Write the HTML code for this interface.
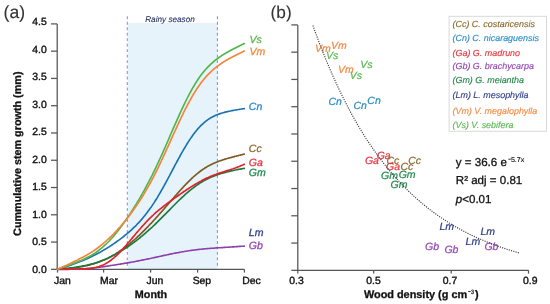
<!DOCTYPE html>
<html><head><meta charset="utf-8"><style>
html,body{margin:0;padding:0;background:#fff;width:550px;height:304px;overflow:hidden}
svg{display:block;font-family:"Liberation Sans",sans-serif;filter:blur(0.35px);text-rendering:geometricPrecision}
</style></head><body>
<svg width="550" height="304" viewBox="0 0 550 304" stroke-width="0.3">
<rect x="127.9" y="23" width="89.5" height="246.3" fill="#e6f3fa"/>
<g stroke="#7b97d4" stroke-width="1.05" stroke-dasharray="2.9,2.58">
<line x1="127.3" y1="16.3" x2="127.3" y2="268"/>
<line x1="217.4" y1="16.3" x2="217.4" y2="268"/>
</g>
<text x="145.2" y="22.4" font-size="8.2" font-style="italic" fill="#2c3566" stroke="#2c3566" stroke-width="0.12">Rainy season</text>
<g stroke="#555" stroke-width="1.25" fill="none">
<path d="M57.2,23.9 L57.2,269.3 L244.4,269.3"/>
<line x1="51" y1="23.90" x2="57.2" y2="23.90"/><line x1="51" y1="51.17" x2="57.2" y2="51.17"/><line x1="51" y1="78.44" x2="57.2" y2="78.44"/><line x1="51" y1="105.71" x2="57.2" y2="105.71"/><line x1="51" y1="132.98" x2="57.2" y2="132.98"/><line x1="51" y1="160.25" x2="57.2" y2="160.25"/><line x1="51" y1="187.52" x2="57.2" y2="187.52"/><line x1="51" y1="214.79" x2="57.2" y2="214.79"/><line x1="51" y1="242.06" x2="57.2" y2="242.06"/><line x1="51" y1="269.33" x2="57.2" y2="269.33"/><line x1="57.50" y1="269.3" x2="57.50" y2="272.6"/><line x1="103.60" y1="269.3" x2="103.60" y2="272.6"/><line x1="150.60" y1="269.3" x2="150.60" y2="272.6"/><line x1="197.60" y1="269.3" x2="197.60" y2="272.6"/><line x1="244.40" y1="269.3" x2="244.40" y2="272.6"/>
</g>
<path d="M57.2,269.3 L58.2,269.3 L59.2,269.3 L60.2,269.3 L61.2,269.3 L62.2,269.3 L63.2,269.3 L64.2,269.3 L65.2,269.3 L66.2,269.3 L67.2,269.3 L68.2,269.3 L69.2,269.3 L70.2,269.2 L71.2,269.2 L72.2,269.2 L73.2,269.2 L74.2,269.2 L75.2,269.1 L76.2,269.1 L77.2,269.1 L78.2,269.0 L79.2,269.0 L80.2,269.0 L81.2,268.9 L82.2,268.9 L83.2,268.8 L84.2,268.7 L85.2,268.7 L86.2,268.6 L87.2,268.5 L88.2,268.5 L89.2,268.4 L90.2,268.3 L91.2,268.2 L92.2,268.1 L93.2,268.0 L94.2,267.9 L95.2,267.8 L96.2,267.7 L97.2,267.5 L98.2,267.4 L99.2,267.3 L100.2,267.1 L101.2,267.0 L102.2,266.9 L103.2,266.7 L104.2,266.6 L105.2,266.4 L106.2,266.3 L107.2,266.1 L108.2,266.0 L109.2,265.8 L110.2,265.6 L111.2,265.5 L112.2,265.3 L113.2,265.2 L114.2,265.0 L115.2,264.9 L116.2,264.7 L117.2,264.5 L118.2,264.4 L119.2,264.2 L120.2,264.1 L121.2,263.9 L122.2,263.8 L123.2,263.6 L124.2,263.4 L125.2,263.3 L126.2,263.1 L127.2,262.9 L128.2,262.8 L129.2,262.6 L130.2,262.4 L131.2,262.2 L132.2,262.0 L133.2,261.9 L134.2,261.7 L135.2,261.5 L136.2,261.3 L137.2,261.1 L138.2,260.9 L139.2,260.7 L140.2,260.5 L141.2,260.3 L142.2,260.1 L143.2,259.9 L144.2,259.7 L145.2,259.5 L146.2,259.3 L147.2,259.1 L148.2,258.9 L149.2,258.7 L150.2,258.5 L151.3,258.2 L152.3,258.0 L153.3,257.8 L154.3,257.6 L155.3,257.4 L156.3,257.2 L157.3,256.9 L158.3,256.7 L159.3,256.5 L160.3,256.3 L161.3,256.1 L162.3,255.8 L163.3,255.6 L164.3,255.4 L165.3,255.2 L166.3,255.0 L167.3,254.8 L168.3,254.6 L169.3,254.3 L170.3,254.1 L171.3,253.9 L172.3,253.7 L173.3,253.5 L174.3,253.3 L175.3,253.1 L176.3,252.9 L177.3,252.7 L178.3,252.6 L179.3,252.4 L180.3,252.2 L181.3,252.0 L182.3,251.8 L183.3,251.7 L184.3,251.5 L185.3,251.3 L186.3,251.2 L187.3,251.0 L188.3,250.8 L189.3,250.7 L190.3,250.5 L191.3,250.4 L192.3,250.3 L193.3,250.1 L194.3,250.0 L195.3,249.9 L196.3,249.7 L197.3,249.6 L198.3,249.5 L199.3,249.4 L200.3,249.3 L201.3,249.2 L202.3,249.1 L203.3,249.0 L204.3,248.9 L205.3,248.8 L206.3,248.7 L207.3,248.6 L208.3,248.5 L209.3,248.5 L210.3,248.4 L211.3,248.3 L212.3,248.2 L213.3,248.2 L214.3,248.1 L215.3,248.0 L216.3,247.9 L217.3,247.9 L218.3,247.8 L219.3,247.7 L220.3,247.7 L221.3,247.6 L222.3,247.6 L223.3,247.5 L224.3,247.4 L225.3,247.4 L226.3,247.3 L227.3,247.2 L228.3,247.2 L229.3,247.1 L230.3,247.0 L231.3,247.0 L232.3,246.9 L233.3,246.8 L234.3,246.8 L235.3,246.7 L236.3,246.6 L237.3,246.6 L238.3,246.5 L239.3,246.4 L240.3,246.4 L241.3,246.3 L242.3,246.2 L243.3,246.2 L244.3,246.1" stroke="#8d3fae" stroke-width="1.65" fill="none" stroke-linecap="round" stroke-linejoin="round"/>
<path d="M57.2,269.3 L58.2,269.3 L59.2,269.2 L60.2,269.2 L61.2,269.1 L62.2,269.0 L63.2,269.0 L64.2,268.9 L65.2,268.8 L66.2,268.7 L67.2,268.6 L68.2,268.5 L69.2,268.4 L70.2,268.3 L71.2,268.2 L72.2,268.1 L73.2,268.0 L74.2,267.9 L75.2,267.7 L76.2,267.6 L77.2,267.4 L78.2,267.3 L79.2,267.1 L80.2,267.0 L81.2,266.8 L82.2,266.6 L83.2,266.4 L84.2,266.2 L85.2,266.0 L86.2,265.8 L87.2,265.6 L88.2,265.3 L89.2,265.1 L90.2,264.8 L91.2,264.5 L92.2,264.3 L93.2,264.0 L94.2,263.7 L95.2,263.3 L96.2,263.0 L97.2,262.7 L98.2,262.3 L99.2,261.9 L100.2,261.5 L101.2,261.1 L102.2,260.7 L103.2,260.3 L104.2,259.9 L105.2,259.4 L106.2,258.9 L107.2,258.5 L108.2,258.0 L109.2,257.4 L110.2,256.9 L111.2,256.4 L112.2,255.8 L113.2,255.2 L114.2,254.7 L115.2,254.1 L116.2,253.4 L117.2,252.8 L118.2,252.2 L119.2,251.5 L120.2,250.8 L121.2,250.1 L122.2,249.4 L123.2,248.7 L124.2,248.0 L125.2,247.2 L126.2,246.5 L127.2,245.7 L128.2,244.9 L129.2,244.1 L130.2,243.3 L131.2,242.4 L132.2,241.6 L133.2,240.7 L134.2,239.9 L135.2,239.0 L136.2,238.1 L137.2,237.1 L138.2,236.2 L139.2,235.3 L140.2,234.3 L141.2,233.4 L142.2,232.4 L143.2,231.4 L144.2,230.4 L145.2,229.4 L146.2,228.4 L147.2,227.3 L148.2,226.3 L149.2,225.2 L150.2,224.2 L151.3,223.1 L152.3,222.0 L153.3,220.9 L154.3,219.8 L155.3,218.7 L156.3,217.6 L157.3,216.5 L158.3,215.4 L159.3,214.3 L160.3,213.1 L161.3,212.0 L162.3,210.9 L163.3,209.7 L164.3,208.6 L165.3,207.4 L166.3,206.3 L167.3,205.1 L168.3,204.0 L169.3,202.8 L170.3,201.7 L171.3,200.5 L172.3,199.3 L173.3,198.2 L174.3,197.0 L175.3,195.9 L176.3,194.8 L177.3,193.6 L178.3,192.5 L179.3,191.4 L180.3,190.3 L181.3,189.2 L182.3,188.1 L183.3,187.0 L184.3,185.9 L185.3,184.9 L186.3,183.8 L187.3,182.8 L188.3,181.8 L189.3,180.8 L190.3,179.8 L191.3,178.9 L192.3,177.9 L193.3,177.0 L194.3,176.1 L195.3,175.3 L196.3,174.4 L197.3,173.6 L198.3,172.8 L199.3,172.0 L200.3,171.3 L201.3,170.5 L202.3,169.8 L203.3,169.1 L204.3,168.5 L205.3,167.8 L206.3,167.2 L207.3,166.6 L208.3,166.1 L209.3,165.5 L210.3,165.0 L211.3,164.5 L212.3,164.0 L213.3,163.6 L214.3,163.1 L215.3,162.7 L216.3,162.3 L217.3,161.9 L218.3,161.5 L219.3,161.1 L220.3,160.7 L221.3,160.4 L222.3,160.1 L223.3,159.7 L224.3,159.4 L225.3,159.1 L226.3,158.8 L227.3,158.5 L228.3,158.2 L229.3,157.9 L230.3,157.7 L231.3,157.4 L232.3,157.1 L233.3,156.9 L234.3,156.6 L235.3,156.3 L236.3,156.1 L237.3,155.8 L238.3,155.6 L239.3,155.3 L240.3,155.1 L241.3,154.8 L242.3,154.6 L243.3,154.3 L244.3,154.1" stroke="#7d5a20" stroke-width="1.65" fill="none" stroke-linecap="round" stroke-linejoin="round"/>
<path d="M57.2,269.3 L58.2,269.2 L59.2,269.1 L60.2,269.0 L61.2,268.9 L62.2,268.8 L63.2,268.7 L64.2,268.6 L65.2,268.5 L66.2,268.4 L67.2,268.3 L68.2,268.2 L69.2,268.1 L70.2,267.9 L71.2,267.8 L72.2,267.7 L73.2,267.5 L74.2,267.4 L75.2,267.2 L76.2,267.1 L77.2,266.9 L78.2,266.8 L79.2,266.6 L80.2,266.5 L81.2,266.3 L82.2,266.1 L83.2,265.9 L84.2,265.7 L85.2,265.5 L86.2,265.3 L87.2,265.1 L88.2,264.8 L89.2,264.6 L90.2,264.4 L91.2,264.1 L92.2,263.8 L93.2,263.6 L94.2,263.3 L95.2,263.0 L96.2,262.7 L97.2,262.3 L98.2,262.0 L99.2,261.7 L100.2,261.3 L101.2,260.9 L102.2,260.5 L103.2,260.1 L104.2,259.7 L105.2,259.3 L106.2,258.9 L107.2,258.4 L108.2,258.0 L109.2,257.5 L110.2,257.0 L111.2,256.5 L112.2,256.0 L113.2,255.5 L114.2,255.0 L115.2,254.5 L116.2,253.9 L117.2,253.3 L118.2,252.8 L119.2,252.2 L120.2,251.6 L121.2,251.0 L122.2,250.4 L123.2,249.8 L124.2,249.1 L125.2,248.5 L126.2,247.8 L127.2,247.2 L128.2,246.5 L129.2,245.8 L130.2,245.1 L131.2,244.4 L132.2,243.7 L133.2,242.9 L134.2,242.2 L135.2,241.4 L136.2,240.7 L137.2,239.9 L138.2,239.1 L139.2,238.3 L140.2,237.5 L141.2,236.7 L142.2,235.9 L143.2,235.0 L144.2,234.2 L145.2,233.3 L146.2,232.4 L147.2,231.5 L148.2,230.6 L149.2,229.7 L150.2,228.8 L151.3,227.9 L152.3,227.0 L153.3,226.0 L154.3,225.1 L155.3,224.1 L156.3,223.1 L157.3,222.2 L158.3,221.2 L159.3,220.2 L160.3,219.2 L161.3,218.2 L162.3,217.2 L163.3,216.2 L164.3,215.2 L165.3,214.2 L166.3,213.1 L167.3,212.1 L168.3,211.1 L169.3,210.1 L170.3,209.1 L171.3,208.0 L172.3,207.0 L173.3,206.0 L174.3,205.0 L175.3,204.0 L176.3,203.0 L177.3,202.0 L178.3,201.0 L179.3,200.0 L180.3,199.1 L181.3,198.1 L182.3,197.2 L183.3,196.3 L184.3,195.3 L185.3,194.4 L186.3,193.5 L187.3,192.7 L188.3,191.8 L189.3,191.0 L190.3,190.1 L191.3,189.3 L192.3,188.6 L193.3,187.8 L194.3,187.0 L195.3,186.3 L196.3,185.6 L197.3,184.9 L198.3,184.2 L199.3,183.5 L200.3,182.9 L201.3,182.3 L202.3,181.7 L203.3,181.1 L204.3,180.5 L205.3,180.0 L206.3,179.5 L207.3,179.0 L208.3,178.5 L209.3,178.0 L210.3,177.5 L211.3,177.1 L212.3,176.7 L213.3,176.3 L214.3,175.9 L215.3,175.5 L216.3,175.1 L217.3,174.8 L218.3,174.4 L219.3,174.1 L220.3,173.8 L221.3,173.5 L222.3,173.2 L223.3,172.9 L224.3,172.6 L225.3,172.4 L226.3,172.1 L227.3,171.8 L228.3,171.6 L229.3,171.4 L230.3,171.1 L231.3,170.9 L232.3,170.7 L233.3,170.5 L234.3,170.2 L235.3,170.0 L236.3,169.8 L237.3,169.6 L238.3,169.4 L239.3,169.3 L240.3,169.1 L241.3,168.9 L242.3,168.7 L243.3,168.5 L244.3,168.4" stroke="#1c7a3c" stroke-width="1.65" fill="none" stroke-linecap="round" stroke-linejoin="round"/>
<path d="M57.2,269.3 L58.2,269.3 L59.2,269.2 L60.2,269.2 L61.2,269.2 L62.2,269.2 L63.2,269.1 L64.2,269.1 L65.2,269.1 L66.2,269.1 L67.2,269.1 L68.2,269.1 L69.2,269.0 L70.2,269.0 L71.2,269.0 L72.2,269.0 L73.2,269.0 L74.2,269.0 L75.2,269.0 L76.2,269.0 L77.2,269.0 L78.2,269.0 L79.2,269.0 L80.2,268.9 L81.2,268.9 L82.2,268.9 L83.2,268.9 L84.2,268.8 L85.2,268.8 L86.2,268.7 L87.2,268.6 L88.2,268.6 L89.2,268.5 L90.2,268.4 L91.2,268.2 L92.2,268.1 L93.2,267.9 L94.2,267.7 L95.2,267.5 L96.2,267.3 L97.2,267.0 L98.2,266.8 L99.2,266.5 L100.2,266.1 L101.2,265.7 L102.2,265.3 L103.2,264.9 L104.2,264.4 L105.2,263.9 L106.2,263.3 L107.2,262.8 L108.2,262.1 L109.2,261.5 L110.2,260.8 L111.2,260.0 L112.2,259.2 L113.2,258.4 L114.2,257.6 L115.2,256.7 L116.2,255.8 L117.2,254.8 L118.2,253.8 L119.2,252.8 L120.2,251.8 L121.2,250.7 L122.2,249.7 L123.2,248.6 L124.2,247.4 L125.2,246.3 L126.2,245.2 L127.2,244.0 L128.2,242.8 L129.2,241.7 L130.2,240.5 L131.2,239.3 L132.2,238.1 L133.2,236.9 L134.2,235.7 L135.2,234.5 L136.2,233.3 L137.2,232.1 L138.2,231.0 L139.2,229.8 L140.2,228.7 L141.2,227.5 L142.2,226.4 L143.2,225.3 L144.2,224.2 L145.2,223.1 L146.2,222.0 L147.2,220.9 L148.2,219.9 L149.2,218.9 L150.2,217.9 L151.3,216.9 L152.3,215.9 L153.3,215.0 L154.3,214.0 L155.3,213.1 L156.3,212.2 L157.3,211.4 L158.3,210.5 L159.3,209.7 L160.3,208.9 L161.3,208.1 L162.3,207.3 L163.3,206.5 L164.3,205.7 L165.3,204.9 L166.3,204.2 L167.3,203.4 L168.3,202.7 L169.3,202.0 L170.3,201.2 L171.3,200.5 L172.3,199.8 L173.3,199.0 L174.3,198.3 L175.3,197.6 L176.3,196.9 L177.3,196.2 L178.3,195.5 L179.3,194.8 L180.3,194.1 L181.3,193.4 L182.3,192.7 L183.3,192.0 L184.3,191.3 L185.3,190.7 L186.3,190.0 L187.3,189.3 L188.3,188.7 L189.3,188.0 L190.3,187.4 L191.3,186.7 L192.3,186.1 L193.3,185.5 L194.3,184.9 L195.3,184.3 L196.3,183.7 L197.3,183.1 L198.3,182.5 L199.3,182.0 L200.3,181.4 L201.3,180.9 L202.3,180.3 L203.3,179.8 L204.3,179.3 L205.3,178.8 L206.3,178.3 L207.3,177.8 L208.3,177.4 L209.3,176.9 L210.3,176.5 L211.3,176.1 L212.3,175.7 L213.3,175.3 L214.3,174.9 L215.3,174.5 L216.3,174.2 L217.3,173.8 L218.3,173.5 L219.3,173.1 L220.3,172.8 L221.3,172.5 L222.3,172.2 L223.3,171.9 L224.3,171.6 L225.3,171.2 L226.3,170.9 L227.3,170.6 L228.3,170.3 L229.3,170.0 L230.3,169.7 L231.3,169.4 L232.3,169.0 L233.3,168.7 L234.3,168.3 L235.3,168.0 L236.3,167.6 L237.3,167.2 L238.3,166.8 L239.3,166.5 L240.3,166.0 L241.3,165.6 L242.3,165.2 L243.3,164.8 L244.3,164.3" stroke="#e3202b" stroke-width="1.65" fill="none" stroke-linecap="round" stroke-linejoin="round"/>
<path d="M57.2,269.3 L58.2,269.0 L59.2,268.7 L60.2,268.4 L61.2,268.1 L62.2,267.8 L63.2,267.5 L64.2,267.2 L65.2,266.9 L66.2,266.6 L67.2,266.2 L68.2,265.9 L69.2,265.6 L70.2,265.2 L71.2,264.9 L72.2,264.5 L73.2,264.2 L74.2,263.8 L75.2,263.5 L76.2,263.1 L77.2,262.7 L78.2,262.3 L79.2,262.0 L80.2,261.6 L81.2,261.2 L82.2,260.8 L83.2,260.4 L84.2,259.9 L85.2,259.5 L86.2,259.1 L87.2,258.7 L88.2,258.2 L89.2,257.7 L90.2,257.3 L91.2,256.8 L92.2,256.3 L93.2,255.8 L94.2,255.3 L95.2,254.8 L96.2,254.3 L97.2,253.8 L98.2,253.3 L99.2,252.7 L100.2,252.2 L101.2,251.6 L102.2,251.0 L103.2,250.4 L104.2,249.8 L105.2,249.2 L106.2,248.6 L107.2,248.0 L108.2,247.4 L109.2,246.8 L110.2,246.1 L111.2,245.5 L112.2,244.8 L113.2,244.1 L114.2,243.4 L115.2,242.7 L116.2,242.0 L117.2,241.3 L118.2,240.6 L119.2,239.9 L120.2,239.1 L121.2,238.4 L122.2,237.6 L123.2,236.8 L124.2,236.0 L125.2,235.2 L126.2,234.4 L127.2,233.6 L128.2,232.7 L129.2,231.8 L130.2,231.0 L131.2,230.1 L132.2,229.1 L133.2,228.2 L134.2,227.2 L135.2,226.3 L136.2,225.3 L137.2,224.2 L138.2,223.2 L139.2,222.1 L140.2,221.0 L141.2,219.9 L142.2,218.7 L143.2,217.5 L144.2,216.3 L145.2,215.1 L146.2,213.8 L147.2,212.5 L148.2,211.1 L149.2,209.7 L150.2,208.3 L151.3,206.9 L152.3,205.4 L153.3,203.9 L154.3,202.4 L155.3,200.8 L156.3,199.2 L157.3,197.6 L158.3,195.9 L159.3,194.2 L160.3,192.5 L161.3,190.7 L162.3,189.0 L163.3,187.2 L164.3,185.4 L165.3,183.5 L166.3,181.7 L167.3,179.8 L168.3,177.9 L169.3,176.1 L170.3,174.2 L171.3,172.3 L172.3,170.4 L173.3,168.5 L174.3,166.6 L175.3,164.7 L176.3,162.9 L177.3,161.0 L178.3,159.1 L179.3,157.3 L180.3,155.5 L181.3,153.7 L182.3,151.9 L183.3,150.2 L184.3,148.5 L185.3,146.8 L186.3,145.1 L187.3,143.5 L188.3,141.9 L189.3,140.4 L190.3,138.9 L191.3,137.4 L192.3,136.0 L193.3,134.6 L194.3,133.3 L195.3,132.0 L196.3,130.7 L197.3,129.5 L198.3,128.4 L199.3,127.3 L200.3,126.2 L201.3,125.2 L202.3,124.3 L203.3,123.4 L204.3,122.5 L205.3,121.7 L206.3,120.9 L207.3,120.1 L208.3,119.4 L209.3,118.8 L210.3,118.1 L211.3,117.6 L212.3,117.0 L213.3,116.5 L214.3,116.0 L215.3,115.5 L216.3,115.1 L217.3,114.7 L218.3,114.3 L219.3,113.9 L220.3,113.6 L221.3,113.3 L222.3,113.0 L223.3,112.7 L224.3,112.4 L225.3,112.1 L226.3,111.9 L227.3,111.7 L228.3,111.4 L229.3,111.2 L230.3,111.0 L231.3,110.8 L232.3,110.6 L233.3,110.4 L234.3,110.2 L235.3,110.0 L236.3,109.9 L237.3,109.7 L238.3,109.5 L239.3,109.4 L240.3,109.2 L241.3,109.0 L242.3,108.9 L243.3,108.7 L244.3,108.6" stroke="#1a72b2" stroke-width="1.65" fill="none" stroke-linecap="round" stroke-linejoin="round"/>
<path d="M57.2,269.3 L58.2,269.0 L59.2,268.6 L60.2,268.3 L61.2,267.9 L62.2,267.6 L63.2,267.2 L64.2,266.9 L65.2,266.5 L66.2,266.2 L67.2,265.8 L68.2,265.5 L69.2,265.1 L70.2,264.7 L71.2,264.4 L72.2,264.0 L73.2,263.6 L74.2,263.2 L75.2,262.8 L76.2,262.4 L77.2,262.0 L78.2,261.6 L79.2,261.2 L80.2,260.8 L81.2,260.4 L82.2,259.9 L83.2,259.5 L84.2,259.0 L85.2,258.5 L86.2,258.0 L87.2,257.5 L88.2,257.0 L89.2,256.5 L90.2,255.9 L91.2,255.4 L92.2,254.8 L93.2,254.2 L94.2,253.5 L95.2,252.9 L96.2,252.2 L97.2,251.5 L98.2,250.8 L99.2,250.0 L100.2,249.2 L101.2,248.4 L102.2,247.6 L103.2,246.7 L104.2,245.8 L105.2,244.9 L106.2,244.0 L107.2,243.0 L108.2,242.0 L109.2,241.0 L110.2,239.9 L111.2,238.8 L112.2,237.7 L113.2,236.6 L114.2,235.4 L115.2,234.2 L116.2,233.0 L117.2,231.7 L118.2,230.5 L119.2,229.2 L120.2,227.9 L121.2,226.5 L122.2,225.2 L123.2,223.8 L124.2,222.4 L125.2,221.0 L126.2,219.5 L127.2,218.1 L128.2,216.6 L129.2,215.1 L130.2,213.6 L131.2,212.0 L132.2,210.5 L133.2,208.9 L134.2,207.3 L135.2,205.7 L136.2,204.1 L137.2,202.4 L138.2,200.8 L139.2,199.1 L140.2,197.4 L141.2,195.6 L142.2,193.9 L143.2,192.1 L144.2,190.3 L145.2,188.5 L146.2,186.6 L147.2,184.7 L148.2,182.8 L149.2,180.9 L150.2,178.9 L151.3,177.0 L152.3,175.0 L153.3,172.9 L154.3,170.9 L155.3,168.8 L156.3,166.7 L157.3,164.5 L158.3,162.4 L159.3,160.2 L160.3,158.0 L161.3,155.8 L162.3,153.6 L163.3,151.4 L164.3,149.1 L165.3,146.8 L166.3,144.5 L167.3,142.3 L168.3,140.0 L169.3,137.7 L170.3,135.3 L171.3,133.0 L172.3,130.7 L173.3,128.4 L174.3,126.1 L175.3,123.9 L176.3,121.6 L177.3,119.3 L178.3,117.1 L179.3,114.9 L180.3,112.7 L181.3,110.5 L182.3,108.3 L183.3,106.2 L184.3,104.1 L185.3,102.0 L186.3,100.0 L187.3,98.0 L188.3,96.1 L189.3,94.2 L190.3,92.3 L191.3,90.5 L192.3,88.7 L193.3,87.0 L194.3,85.3 L195.3,83.6 L196.3,82.0 L197.3,80.5 L198.3,79.0 L199.3,77.5 L200.3,76.1 L201.3,74.8 L202.3,73.5 L203.3,72.2 L204.3,71.0 L205.3,69.8 L206.3,68.7 L207.3,67.6 L208.3,66.6 L209.3,65.6 L210.3,64.6 L211.3,63.7 L212.3,62.8 L213.3,61.9 L214.3,61.0 L215.3,60.2 L216.3,59.5 L217.3,58.7 L218.3,58.0 L219.3,57.3 L220.3,56.6 L221.3,55.9 L222.3,55.3 L223.3,54.6 L224.3,54.0 L225.3,53.4 L226.3,52.8 L227.3,52.2 L228.3,51.7 L229.3,51.1 L230.3,50.6 L231.3,50.0 L232.3,49.5 L233.3,49.0 L234.3,48.5 L235.3,48.0 L236.3,47.5 L237.3,47.0 L238.3,46.5 L239.3,46.0 L240.3,45.5 L241.3,45.0 L242.3,44.6 L243.3,44.1 L244.3,43.6" stroke="#4fb649" stroke-width="1.65" fill="none" stroke-linecap="round" stroke-linejoin="round"/>
<path d="M57.2,269.3 L58.2,268.9 L59.2,268.4 L60.2,268.0 L61.2,267.6 L62.2,267.1 L63.2,266.7 L64.2,266.2 L65.2,265.8 L66.2,265.4 L67.2,264.9 L68.2,264.4 L69.2,264.0 L70.2,263.5 L71.2,263.0 L72.2,262.6 L73.2,262.1 L74.2,261.6 L75.2,261.1 L76.2,260.6 L77.2,260.2 L78.2,259.6 L79.2,259.1 L80.2,258.6 L81.2,258.1 L82.2,257.6 L83.2,257.0 L84.2,256.5 L85.2,255.9 L86.2,255.4 L87.2,254.8 L88.2,254.2 L89.2,253.6 L90.2,253.0 L91.2,252.4 L92.2,251.7 L93.2,251.1 L94.2,250.4 L95.2,249.7 L96.2,249.0 L97.2,248.3 L98.2,247.5 L99.2,246.8 L100.2,246.0 L101.2,245.2 L102.2,244.4 L103.2,243.5 L104.2,242.7 L105.2,241.8 L106.2,240.9 L107.2,240.0 L108.2,239.1 L109.2,238.2 L110.2,237.2 L111.2,236.3 L112.2,235.3 L113.2,234.3 L114.2,233.2 L115.2,232.2 L116.2,231.1 L117.2,230.0 L118.2,228.9 L119.2,227.8 L120.2,226.7 L121.2,225.6 L122.2,224.4 L123.2,223.2 L124.2,222.0 L125.2,220.8 L126.2,219.6 L127.2,218.3 L128.2,217.0 L129.2,215.7 L130.2,214.4 L131.2,213.1 L132.2,211.7 L133.2,210.3 L134.2,208.9 L135.2,207.5 L136.2,206.1 L137.2,204.6 L138.2,203.1 L139.2,201.6 L140.2,200.0 L141.2,198.5 L142.2,196.8 L143.2,195.2 L144.2,193.6 L145.2,191.9 L146.2,190.2 L147.2,188.4 L148.2,186.6 L149.2,184.8 L150.2,183.0 L151.3,181.1 L152.3,179.2 L153.3,177.3 L154.3,175.4 L155.3,173.4 L156.3,171.4 L157.3,169.4 L158.3,167.3 L159.3,165.2 L160.3,163.1 L161.3,161.0 L162.3,158.9 L163.3,156.7 L164.3,154.6 L165.3,152.4 L166.3,150.2 L167.3,148.0 L168.3,145.8 L169.3,143.6 L170.3,141.4 L171.3,139.1 L172.3,136.9 L173.3,134.7 L174.3,132.5 L175.3,130.3 L176.3,128.1 L177.3,125.9 L178.3,123.8 L179.3,121.6 L180.3,119.5 L181.3,117.4 L182.3,115.3 L183.3,113.2 L184.3,111.2 L185.3,109.2 L186.3,107.3 L187.3,105.3 L188.3,103.4 L189.3,101.6 L190.3,99.8 L191.3,98.0 L192.3,96.2 L193.3,94.5 L194.3,92.9 L195.3,91.3 L196.3,89.7 L197.3,88.2 L198.3,86.7 L199.3,85.3 L200.3,83.9 L201.3,82.6 L202.3,81.3 L203.3,80.0 L204.3,78.8 L205.3,77.6 L206.3,76.5 L207.3,75.4 L208.3,74.3 L209.3,73.3 L210.3,72.3 L211.3,71.4 L212.3,70.5 L213.3,69.6 L214.3,68.7 L215.3,67.9 L216.3,67.1 L217.3,66.3 L218.3,65.6 L219.3,64.8 L220.3,64.1 L221.3,63.5 L222.3,62.8 L223.3,62.1 L224.3,61.5 L225.3,60.9 L226.3,60.3 L227.3,59.7 L228.3,59.1 L229.3,58.6 L230.3,58.0 L231.3,57.5 L232.3,56.9 L233.3,56.4 L234.3,55.9 L235.3,55.4 L236.3,54.9 L237.3,54.4 L238.3,53.9 L239.3,53.4 L240.3,52.9 L241.3,52.5 L242.3,52.0 L243.3,51.6 L244.3,51.1" stroke="#f4843a" stroke-width="1.65" fill="none" stroke-linecap="round" stroke-linejoin="round"/>

<g stroke="#555" stroke-width="1.25" fill="none">
<path d="M297.8,24.9 L297.8,270.3 L528.5,270.3"/>
<line x1="291.3" y1="24.90" x2="297.8" y2="24.90"/><line x1="291.3" y1="52.17" x2="297.8" y2="52.17"/><line x1="291.3" y1="79.44" x2="297.8" y2="79.44"/><line x1="291.3" y1="106.71" x2="297.8" y2="106.71"/><line x1="291.3" y1="133.98" x2="297.8" y2="133.98"/><line x1="291.3" y1="161.25" x2="297.8" y2="161.25"/><line x1="291.3" y1="188.52" x2="297.8" y2="188.52"/><line x1="291.3" y1="215.79" x2="297.8" y2="215.79"/><line x1="291.3" y1="243.06" x2="297.8" y2="243.06"/><line x1="291.3" y1="270.33" x2="297.8" y2="270.33"/><line x1="297.80" y1="270.3" x2="297.80" y2="273.6"/><line x1="373.70" y1="270.3" x2="373.70" y2="273.6"/><line x1="451.20" y1="270.3" x2="451.20" y2="273.6"/><line x1="528.50" y1="270.3" x2="528.50" y2="273.6"/>
</g>
<g font-size="10.4" fill="#111" stroke="#111" stroke-width="0.38" text-anchor="end"><text x="46.8" y="25.10">4.5</text><text x="46.8" y="52.59">4.0</text><text x="46.8" y="80.08">3.5</text><text x="46.8" y="107.57">3.0</text><text x="46.8" y="135.06">2.5</text><text x="46.8" y="162.55">2.0</text><text x="46.8" y="190.04">1.5</text><text x="46.8" y="217.53">1.0</text><text x="46.8" y="245.02">0.5</text><text x="46.8" y="272.51">0.0</text></g>
<g font-size="10.4" fill="#111" stroke="#111" stroke-width="0.38" text-anchor="middle"><text x="62.50" y="283.5">Jan</text><text x="109.00" y="283.5">Mar</text><text x="155.00" y="283.5">Jun</text><text x="201.90" y="283.5">Sep</text><text x="251.50" y="283.5">Dec</text><text x="296.50" y="283.8">0.3</text><text x="373.50" y="283.8">0.5</text><text x="450.00" y="283.8">0.7</text><text x="530.30" y="283.8">0.9</text></g>
<text x="151" y="297.5" font-size="10.8" font-weight="bold" text-anchor="middle" fill="#111" stroke="#111">Month</text>
<text transform="translate(20.9,153.7) rotate(-90)" font-size="10.8" font-weight="bold" text-anchor="middle" fill="#111" stroke="#111">Cummulative stem growth (mm)</text>
<text x="3.6" y="18.4" font-size="17.6" fill="#333" stroke="#333" stroke-width="0.12">(a)</text>
<text x="270.6" y="17.9" font-size="17.2" fill="#333" stroke="#333" stroke-width="0.12">(b)</text>
<g font-size="10.5" font-style="italic"><text x="249.5" y="43.4" fill="#5bb854" stroke="#5bb854">Vs</text><text x="249.5" y="55.3" fill="#f48a42" stroke="#f48a42">Vm</text><text x="248.8" y="109.6" fill="#2a8cc8" stroke="#2a8cc8">Cn</text><text x="248.8" y="151.5" fill="#8a6a2c" stroke="#8a6a2c">Cc</text><text x="248.8" y="165.8" fill="#e5363f" stroke="#e5363f">Ga</text><text x="248.8" y="175.7" fill="#1f8a4c" stroke="#1f8a4c">Gm</text><text x="248.8" y="235.8" fill="#2f3d8a" stroke="#2f3d8a">Lm</text><text x="248.8" y="248.7" fill="#9447b4" stroke="#9447b4">Gb</text></g>
<g font-size="10.5" font-style="italic" stroke-width="0.22"><text x="315.0" y="52.4" fill="#f48a42" stroke="#f48a42">Vm</text><text x="331.1" y="49.4" fill="#f48a42" stroke="#f48a42">Vm</text><text x="325.9" y="58.9" fill="#5bb854" stroke="#5bb854">Vs</text><text x="360.3" y="67.6" fill="#5bb854" stroke="#5bb854">Vs</text><text x="337.9" y="73.1" fill="#f48a42" stroke="#f48a42">Vm</text><text x="349.7" y="79.2" fill="#5bb854" stroke="#5bb854">Vs</text><text x="328.4" y="105.0" fill="#2a8cc8" stroke="#2a8cc8">Cn</text><text x="353.5" y="109.4" fill="#2a8cc8" stroke="#2a8cc8">Cn</text><text x="367.3" y="103.9" fill="#2a8cc8" stroke="#2a8cc8">Cn</text><text x="364.9" y="163.8" fill="#e5363f" stroke="#e5363f">Ga</text><text x="376.7" y="158.6" fill="#e5363f" stroke="#e5363f">Ga</text><text x="386.5" y="164.1" fill="#8a6a2c" stroke="#8a6a2c">Cc</text><text x="386.0" y="169.6" fill="#e5363f" stroke="#e5363f">Ga</text><text x="400.4" y="169.6" fill="#8a6a2c" stroke="#8a6a2c">Cc</text><text x="408.2" y="164.0" fill="#8a6a2c" stroke="#8a6a2c">Cc</text><text x="381.0" y="178.6" fill="#1f8a4c" stroke="#1f8a4c">Gm</text><text x="398.7" y="177.9" fill="#1f8a4c" stroke="#1f8a4c">Gm</text><text x="390.6" y="187.7" fill="#1f8a4c" stroke="#1f8a4c">Gm</text><text x="439.4" y="230.0" fill="#2f3d8a" stroke="#2f3d8a">Lm</text><text x="480.4" y="234.5" fill="#2f3d8a" stroke="#2f3d8a">Lm</text><text x="465.6" y="245.0" fill="#2f3d8a" stroke="#2f3d8a">Lm</text><text x="425.0" y="250.0" fill="#9447b4" stroke="#9447b4">Gb</text><text x="444.4" y="253.3" fill="#9447b4" stroke="#9447b4">Gb</text><text x="484.4" y="249.9" fill="#9447b4" stroke="#9447b4">Gb</text></g>
<path d="M312.90,25.51 L315.52,32.78 L318.14,39.84 L320.76,46.70 L323.39,53.35 L326.01,59.82 L328.63,66.10 L331.25,72.20 L333.87,78.13 L336.49,83.89 L339.12,89.48 L341.74,94.91 L344.36,100.18 L346.98,105.30 L349.60,110.28 L352.22,115.11 L354.84,119.80 L357.47,124.36 L360.09,128.79 L362.71,133.09 L365.33,137.27 L367.95,141.32 L370.57,145.26 L373.19,149.09 L375.82,152.81 L378.44,156.42 L381.06,159.93 L383.68,163.33 L386.30,166.64 L388.92,169.85 L391.55,172.97 L394.17,176.01 L396.79,178.95 L399.41,181.81 L402.03,184.59 L404.65,187.28 L407.27,189.91 L409.90,192.45 L412.52,194.92 L415.14,197.32 L417.76,199.65 L420.38,201.92 L423.00,204.12 L425.63,206.26 L428.25,208.33 L430.87,210.35 L433.49,212.30 L436.11,214.21 L438.73,216.05 L441.35,217.85 L443.98,219.59 L446.60,221.28 L449.22,222.92 L451.84,224.52 L454.46,226.07 L457.08,227.58 L459.71,229.04 L462.33,230.46 L464.95,231.84 L467.57,233.18 L470.19,234.48 L472.81,235.75 L475.43,236.98 L478.06,238.17 L480.68,239.33 L483.30,240.45 L485.92,241.55 L488.54,242.61 L491.16,243.64 L493.78,244.64 L496.41,245.61 L499.03,246.56 L501.65,247.47 L504.27,248.37 L506.89,249.23 L509.51,250.07 L512.14,250.89 L514.76,251.68 L517.38,252.45 L520.00,253.20" stroke="#3a3a3a" stroke-width="1.15" fill="none" stroke-dasharray="1.1,1.25"/>
<rect x="449.1" y="16.3" width="97.4" height="115" fill="none" stroke="#d8d8d8" stroke-width="0.95"/>
<g font-size="8.95" font-style="italic"><text x="452.5" y="26.90" fill="#8a6a2c" stroke="#8a6a2c" stroke-width="0.15">(Cc) C. costaricensis</text><text x="452.5" y="41.20" fill="#2a8cc8" stroke="#2a8cc8" stroke-width="0.15">(Cn) C. nicaraguensis</text><text x="452.5" y="56.20" fill="#e5363f" stroke="#e5363f" stroke-width="0.15">(Ga) G. madruno</text><text x="452.5" y="68.80" fill="#9447b4" stroke="#9447b4" stroke-width="0.15">(Gb) G. brachycarpa</text><text x="452.5" y="83.40" fill="#1f8a4c" stroke="#1f8a4c" stroke-width="0.15">(Gm) G. meiantha</text><text x="452.5" y="97.80" fill="#2f3d8a" stroke="#2f3d8a" stroke-width="0.15">(Lm) L. mesophylla</text><text x="452.5" y="113.70" fill="#f48a42" stroke="#f48a42" stroke-width="0.15">(Vm) V. megalophylla</text><text x="452.5" y="127.60" fill="#5bb854" stroke="#5bb854" stroke-width="0.15">(Vs) V. sebifera</text></g>
<g font-size="11.55" fill="#111" stroke="#111">
<text x="455.8" y="166">y = 36.6 e</text><line x1="508.4" y1="159.2" x2="510.8" y2="159.2" stroke-width="0.9"/><text x="510.9" y="161.6" font-size="7.1" stroke-width="0.12">5.7x</text>
<text x="455.8" y="184.1">R² adj = 0.81</text>
<text x="455.8" y="202.7"><tspan font-style="italic">p</tspan>&lt;0.01</text>
</g>
<g fill="#111" stroke="#111"><text x="363.9" y="298" font-size="10.9" font-weight="bold">Wood density (g cm</text>
<line x1="468.2" y1="291.5" x2="470.6" y2="291.5" stroke-width="0.9"/><text x="470.8" y="293.9" font-size="6.2" stroke-width="0.15">3</text>
<text x="475" y="298" font-size="10.9" font-weight="bold">)</text></g>
</svg>
</body></html>
